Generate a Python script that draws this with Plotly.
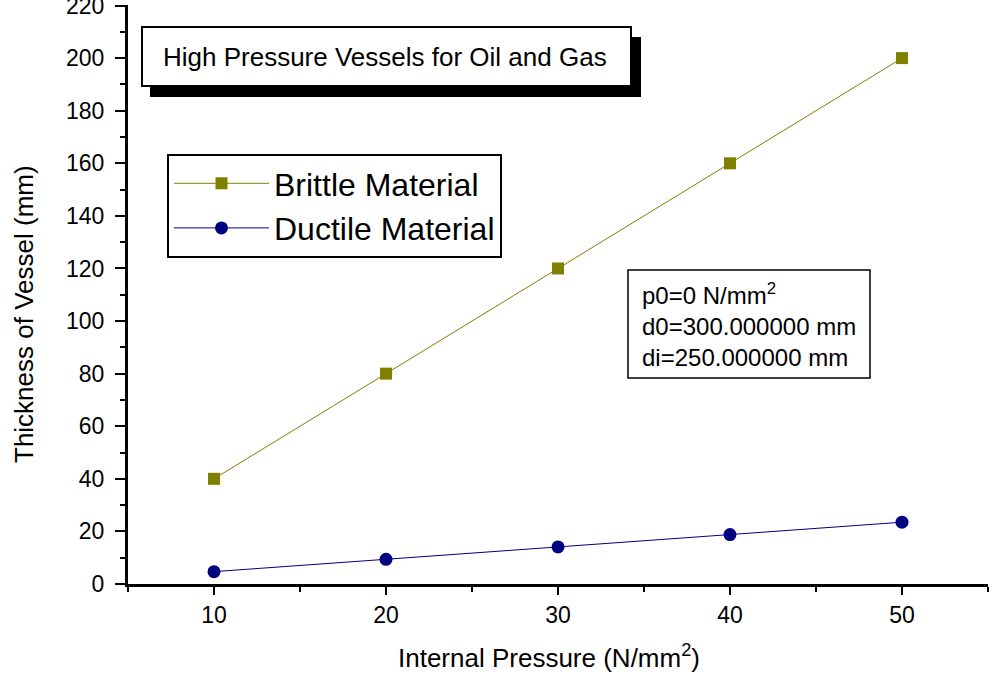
import plotly.graph_objects as go

# ---- data ----
pressure = [10, 20, 30, 40, 50]
brittle = [40, 80, 120, 160, 200]
ductile = [4.7, 9.4, 14.1, 18.8, 23.5]
series_names = ["Brittle Material", "Ductile Material"]
title_text = "High Pressure Vessels for Oil and Gas"
info_lines = ["p0=0 N/mm<sup>2</sup>", "d0=300.000000 mm", "di=250.000000 mm"]
x_title = "Internal Pressure (N/mm<sup>2</sup>)"
y_title = "Thickness of Vessel (mm)"

FONT = "Liberation Sans, Arial, sans-serif"
W, H = 999, 697
L, R, T, B = 128, 11, 5, 113
PW, PH = W - L - R, H - T - B


def px(xpix):
    return (xpix - L) / PW


def py(ypix):
    return (H - B - ypix) / PH


fig = go.Figure()
fig.add_trace(go.Scatter(
    x=pressure, y=brittle, name=series_names[0], mode="lines+markers",
    line=dict(color="#808000", width=1),
    marker=dict(symbol="square", size=12, color="#808000"),
))
fig.add_trace(go.Scatter(
    x=pressure, y=ductile, name=series_names[1], mode="lines+markers",
    line=dict(color="#000080", width=1),
    marker=dict(symbol="circle", size=13, color="#000080"),
))

axis_common = dict(
    showline=True, linecolor="black", linewidth=3, mirror=False,
    showgrid=False, zeroline=False, ticks="outside", tickcolor="black",
    tickwidth=2, tickfont=dict(family=FONT, size=23, color="black"),
    ticklabeloverflow="allow", automargin=False,
)
fig.update_xaxes(
    range=[5, 55], tick0=0, dtick=10, ticklen=8, ticklabelstandoff=0,
    minor=dict(ticks="outside", dtick=5, tick0=0, ticklen=5, tickwidth=2, tickcolor="black"),
    **axis_common,
)
fig.update_yaxes(
    range=[0, 220.2], tick0=0, dtick=20, ticklen=10, ticklabelstandoff=6,
    minor=dict(ticks="outside", dtick=10, tick0=0, ticklen=5, tickwidth=2, tickcolor="black"),
    **axis_common,
)

# title box: shadow, then white bordered box
fig.add_shape(type="rect", xref="paper", yref="paper",
              x0=px(150), x1=px(641), y0=py(97), y1=py(37),
              fillcolor="black", line=dict(width=0), layer="above")
fig.add_shape(type="rect", xref="paper", yref="paper",
              x0=px(142), x1=px(631), y0=py(86), y1=py(27),
              fillcolor="white", line=dict(color="black", width=2), layer="above")
# info box
fig.add_shape(type="rect", xref="paper", yref="paper",
              x0=px(628), x1=px(870), y0=py(378), y1=py(270),
              fillcolor="white", line=dict(color="black", width=1.5), layer="above")

annotations = [
    dict(text=title_text, xref="paper", yref="paper", x=px(385), y=py(57),
         xanchor="center", yanchor="middle", showarrow=False,
         font=dict(family=FONT, size=26, color="black")),
    dict(text="<br>".join(info_lines), xref="paper", yref="paper", x=px(640), y=py(325),
         xanchor="left", yanchor="middle", showarrow=False, align="left",
         font=dict(family=FONT, size=24, color="black")),
    dict(text=x_title, xref="paper", yref="paper", x=px(549), y=py(656),
         xanchor="center", yanchor="middle", showarrow=False,
         font=dict(family=FONT, size=26, color="black")),
    dict(text=y_title, xref="paper", yref="paper", x=px(24), y=py(314),
         xanchor="center", yanchor="middle", showarrow=False, textangle=-90,
         font=dict(family=FONT, size=26, color="black")),
]

fig.update_layout(
    width=W, height=H,
    margin=dict(l=L, r=R, t=T, b=B, pad=0, autoexpand=False),
    paper_bgcolor="white", plot_bgcolor="white",
    showlegend=True,
    legend=dict(x=px(167), y=py(154), xanchor="left", yanchor="top",
                bgcolor="white", bordercolor="black", borderwidth=2,
                font=dict(family=FONT, size=32, color="black"),
                itemwidth=95, entrywidth=255, tracegroupgap=0),
    annotations=annotations,
    font=dict(family=FONT, color="black"),
)

fig.write_html("out.html")
